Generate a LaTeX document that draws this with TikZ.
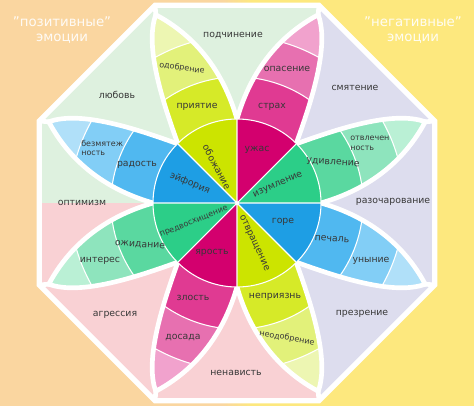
\documentclass[tikz,border=0pt]{standalone}
\usepackage{fontspec}
\setmainfont{DejaVu Sans}

\definecolor{peach}{RGB}{250,214,160}
\definecolor{sunny}{RGB}{253,232,126}
\definecolor{mintbg}{RGB}{222,241,223}
\definecolor{pinkbg}{RGB}{249,209,212}
\definecolor{lilacbg}{RGB}{221,221,238}
\definecolor{lime1}{RGB}{204,228,0}
\definecolor{lime2}{RGB}{214,234,40}
\definecolor{lime3}{RGB}{226,241,122}
\definecolor{lime4}{RGB}{237,246,178}
\definecolor{mag1}{RGB}{211,0,110}
\definecolor{mag2}{RGB}{224,58,146}
\definecolor{mag3}{RGB}{231,112,176}
\definecolor{mag4}{RGB}{241,162,205}
\definecolor{grn1}{RGB}{44,206,136}
\definecolor{grn2}{RGB}{90,216,160}
\definecolor{grn3}{RGB}{142,228,189}
\definecolor{grn4}{RGB}{186,240,213}
\definecolor{blu1}{RGB}{30,158,228}
\definecolor{blu2}{RGB}{80,184,240}
\definecolor{blu3}{RGB}{130,206,246}
\definecolor{blu4}{RGB}{176,224,249}

\tikzset{
  emo/.style={inner sep=0.75pt, text=black!78, font=\fontsize{7}{8.5}\selectfont},
  emosmall/.style={emo, font=\fontsize{6}{7.4}\selectfont},
  heading/.style={inner sep=0.75pt, text=white, text opacity=0.9, align=center, font=\fontsize{10}{11.5}\selectfont},
  gap/.style={draw=white, line width=3.5pt},
  rim/.style={draw=white, line width=4pt},
  seam/.style={draw=white, line width=0.8pt},
}

% one petal: #1 direction, #2 side of the fuller edge (1 or -1), #3 #4 #5 band colours from inside out
\newcommand{\petal}[5]{%
  \begin{scope}[rotate=#1,yscale=#2]
    \begin{scope}
      \clip (0,0) -- (77,-32) .. controls (110,-36) and (160,-34) .. (205,3) .. controls (180,26) and (120,30) .. (77,32) -- cycle;
      \fill[#5] (0,0) circle (212);
      \fill[#4] (0,0) circle (167);
      \fill[#3] (0,0) circle (126);
      \draw[seam] (0,0) circle (167) (0,0) circle (126);
    \end{scope}
    \draw[gap] (0,0) -- (77,-32) .. controls (110,-36) and (160,-34) .. (205,3) .. controls (180,26) and (120,30) .. (77,32) -- cycle;
    \draw[gap] (205,3) -- (214,0);
  \end{scope}}

\begin{document}
\begin{tikzpicture}[x=0.75pt,y=0.75pt,yscale=-1,xscale=1]
\useasboundingbox (0,0) rectangle (474,406);

%Shape: Rectangle [background]
\fill[peach] (0,0) rectangle (237,406);
\fill[sunny] (237,0) rectangle (474,406);
\shade[left color=peach,right color=sunny] (222,0) rectangle (252,406);

\begin{scope}[shift={(237,203)},yscale=-1]
%Shape: Octagon
\begin{scope}
\clip (22.5:214) -- (67.5:214) -- (112.5:214) -- (157.5:214) -- (202.5:214) -- (247.5:214) -- (292.5:214) -- (337.5:214) -- cycle;
\fill[lilacbg] (-250,-250) rectangle (250,250);
\fill[mintbg] (0,0) -- (67.5:300) -- (112.5:300) -- (157.5:300) -- (180:300) -- cycle;
\fill[pinkbg] (0,0) -- (180:300) -- (202.5:300) -- (247.5:300) -- (292.5:300) -- cycle;
\end{scope}
\draw[rim] (22.5:214) -- (67.5:214) -- (112.5:214) -- (157.5:214) -- (202.5:214) -- (247.5:214) -- (292.5:214) -- (337.5:214) -- cycle;

%Shape: Petals
\petal{112.5}{1}{lime2}{lime3}{lime4}
\petal{67.5}{-1}{mag2}{mag3}{mag4}
\petal{22.5}{1}{grn2}{grn3}{grn4}
\petal{-22.5}{-1}{blu2}{blu3}{blu4}
\petal{-67.5}{1}{lime2}{lime3}{lime4}
\petal{-112.5}{-1}{mag2}{mag3}{mag4}
\petal{202.5}{1}{grn2}{grn3}{grn4}
\petal{157.5}{-1}{blu2}{blu3}{blu4}

%Shape: Circle [centre]
\fill[lime1] (0,0) -- (90:84) arc[start angle=90,end angle=135,radius=84] -- cycle;
\fill[mag1] (0,0) -- (45:84) arc[start angle=45,end angle=90,radius=84] -- cycle;
\fill[grn1] (0,0) -- (0:84) arc[start angle=0,end angle=45,radius=84] -- cycle;
\fill[blu1] (0,0) -- (-45:84) arc[start angle=-45,end angle=0,radius=84] -- cycle;
\fill[lime1] (0,0) -- (-90:84) arc[start angle=-90,end angle=-45,radius=84] -- cycle;
\fill[mag1] (0,0) -- (-135:84) arc[start angle=-135,end angle=-90,radius=84] -- cycle;
\fill[grn1] (0,0) -- (180:84) arc[start angle=180,end angle=225,radius=84] -- cycle;
\fill[blu1] (0,0) -- (135:84) arc[start angle=135,end angle=180,radius=84] -- cycle;
\draw[seam] (0,0) circle (84);
\draw[seam] (0:84) -- (180:84) (45:84) -- (225:84) (90:84) -- (270:84) (135:84) -- (315:84);
\end{scope}

% Text Node
\draw (62,30) node[heading] (posit) {"позитивные"\\эмоции};
% Text Node
\draw (413,30) node[heading] (negat) {"негативные"\\эмоции};

% Text Node
\draw (233,36) node[emo] (podch) {подчинение};
\draw (182,68) node[emosmall, rotate=-8] (odobr) {одобрение};
\draw (197,107) node[emo] (priyat) {приятие};
\draw (217,167) node[emo, rotate=-62] (obozh) {обожание};
\draw (287,69) node[emo] (opas) {опасение};
\draw (272,107) node[emo] (strah) {страх};
\draw (257,150) node[emo] (uzhas) {ужас};
\draw (355,88) node[emo] (smyat) {смятение};
\draw (349,143) node[emosmall, anchor=west, align=left] (otvl) {отвлечен\\ность};
\draw (333,163) node[emo, rotate=-4] (udivl) {удивление};
\draw (278,185) node[emo, rotate=24] (izuml) {изумление};
\draw (393,202) node[emo] (razoch) {разочарование};
\draw (283,222) node[emo] (gore) {горе};
\draw (332,239) node[emo, rotate=-4] (pechal) {печаль};
\draw (371,261) node[emo] (unyn) {уныние};
\draw (362,314) node[emo] (prezr) {презрение};
\draw (275,297) node[emo] (nepriyazn) {неприязнь};
\draw (287,338) node[emosmall, rotate=-10] (neodobr) {неодобрение};
\draw (236,373) node[emo] (nenav) {ненависть};
\draw (254,243) node[emo, rotate=-65] (otvr) {отвращение};
\draw (212,253) node[emo] (yarost) {ярость};
\draw (193,298) node[emo] (zlost) {злость};
\draw (183,338) node[emo] (dosada) {досада};
\draw (115,315) node[emo] (agress) {агрессия};
\draw (194,222) node[emosmall, rotate=22] (predv) {предвосхищение};
\draw (140,245) node[emo, rotate=-4] (ozhid) {ожидание};
\draw (100,261) node[emo] (interes) {интерес};
\draw (82,203) node[emo] (optim) {оптимизм};
\draw (80,148) node[emosmall, anchor=west, align=left] (bezm) {безмятеж\\ность};
\draw (137,165) node[emo] (radost) {радость};
\draw (190,183) node[emo, rotate=-23] (eyfor) {эйфория};
\draw (117,95) node[emo] (lyubov) {любовь};

\end{tikzpicture}
\end{document}
